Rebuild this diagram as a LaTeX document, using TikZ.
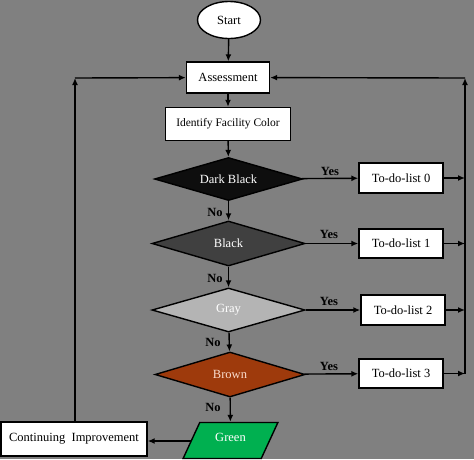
\documentclass[tikz,border=0pt]{standalone}
\usepackage{fontspec}
\setmainfont{Liberation Serif}
\usetikzlibrary{shapes.geometric, arrows.meta}
\definecolor{bggray}{RGB}{128,128,128}
\definecolor{darkblk}{RGB}{14,14,14}
\definecolor{blk}{RGB}{64,64,64}
\definecolor{lgray}{RGB}{180,180,180}
\definecolor{brown}{RGB}{158,58,12}
\definecolor{brtext}{RGB}{250,220,205}
\definecolor{grn}{RGB}{0,176,80}
\begin{document}
\begin{tikzpicture}[x=1pt, y=-1pt,
    line width=1.4pt, >={Latex[length=7pt,width=6pt]},
    box/.style={rectangle, draw=black, fill=white, line width=1.4pt, inner sep=1pt, font=\fontsize{12.5}{14}\selectfont},
    decide/.style={diamond, draw=black, line width=1.4pt, aspect=3.4, inner sep=1pt, font=\fontsize{12.5}{14}\selectfont},
    lbl/.style={font=\bfseries\fontsize{12.5}{13}\selectfont, inner sep=0pt}]
    \fill[bggray] (0,0) rectangle (474,459);
    \useasboundingbox (0,0) rectangle (474,459);

    \node[ellipse, draw, fill=white, line width=1.4pt, minimum width=63pt, minimum height=37pt, inner sep=0pt,
      font=\fontsize{12.5}{14}\selectfont] (start) at (229,20) {Start};
    \node[box, minimum width=83pt, minimum height=31pt] (assess) at (228,77.5) {Assessment};
    \node[box, minimum width=125pt, minimum height=33pt, font=\fontsize{11.5}{13}\selectfont] (ident) at (228,124) {Identify Facility Color};

    \node[decide, fill=darkblk, text=white, minimum width=148pt, minimum height=43pt] (dblack) at (228.5,179) {Dark Black};
    \node[decide, fill=blk, text=white, minimum width=153pt, minimum height=45pt] (black) at (228.5,243.5) {Black};
    \node[decide, fill=lgray, text=white, minimum width=153pt, minimum height=44pt] (gray) at (228.5,310) {Gray};
    \node[decide, fill=brown, text=brtext, minimum width=150pt, minimum height=45pt] (brown) at (230,374.5) {Brown};
    \node[trapezium, trapezium left angle=63, trapezium right angle=117, trapezium stretches=true,
      draw, fill=grn, text=white, line width=1.4pt, minimum width=95pt, minimum height=36pt, inner sep=1pt,
      font=\fontsize{12.5}{14}\selectfont] (green) at (230.5,440.5) {\raisebox{7pt}{Green}};

    \node[box, minimum width=84pt, minimum height=30pt] (todo0) at (401,178) {To-do-list 0};
    \node[box, minimum width=84pt, minimum height=29pt] (todo1) at (401,243.5) {To-do-list 1};
    \node[box, minimum width=84pt, minimum height=30pt] (todo2) at (403,310) {To-do-list 2};
    \node[box, minimum width=84pt, minimum height=29pt] (todo3) at (401,373.5) {To-do-list 3};
    \node[box, minimum width=146pt, minimum height=34pt] (cont) at (74,439) {Continuing\ \ Improvement};

    \coordinate (rtop) at (465,78);
    \coordinate (ltop) at (75,78);
    \coordinate (lbot) at (75,422);
    \coordinate (r0) at (465,178);
    \coordinate (r1) at (465,243.5);
    \coordinate (r2) at (465,310);
    \coordinate (r3) at (465,373.5);

    % main column
    \draw[->] (start) -- (assess);
    \draw[->] (assess) -- (ident);
    \draw[->] (ident) -- (dblack);
    \draw[->] (dblack) -- (black);
    \draw[->] (black) -- (gray);
    \draw[->] (gray) -- (brown);
    \draw[->] (brown) -- (green);
    \draw[->] (green.west |- 0,441) -- (cont.east |- 0,441);

    % yes branches
    \draw[->] (dblack) -- (todo0);
    \draw[->] (black) -- (todo1);
    \draw[->] (gray) -- (todo2);
    \draw[->] (brown) -- (todo3);
    \draw[->] (todo0) -- (r0);
    \draw[->] (todo1) -- (r1);
    \draw[->] (todo2) -- (r2);
    \draw[->] (todo3) -- (r3);

    % feedback loops
    \draw[->] (r3) -- (rtop);
    \draw[->] (rtop) -- (assess);
    \draw[->] (lbot) -- (ltop);
    \draw[->] (ltop) -- (assess);

    \node[lbl] (y0) at (330,171) {Yes};
    \node[lbl] (y1) at (329,234) {Yes};
    \node[lbl] (y2) at (329,301) {Yes};
    \node[lbl] (y3) at (329,366) {Yes};
    \node[lbl] (n0) at (215,212) {No};
    \node[lbl] (n1) at (215,278) {No};
    \node[lbl] (n2) at (213,342) {No};
    \node[lbl] (n3) at (213,407) {No};
  \end{tikzpicture}
\end{document}
